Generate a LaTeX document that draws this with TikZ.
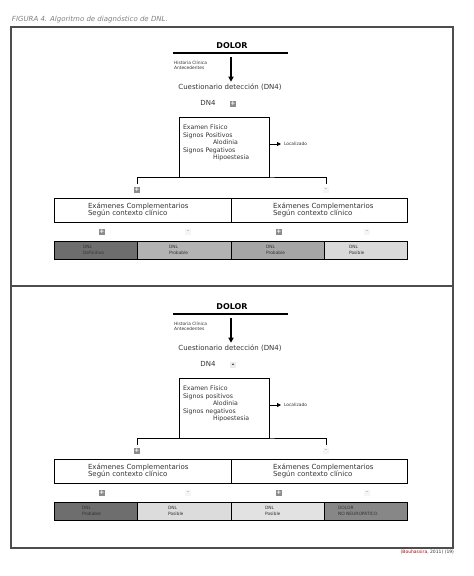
\documentclass[tikz,border=0pt]{standalone}
\usepackage{fontspec}
\setmainfont{DejaVu Sans}
\usetikzlibrary{arrows.meta}
\definecolor{framecol}{HTML}{4D4D4D}
\definecolor{capgray}{HTML}{808080}
\definecolor{plusgray}{HTML}{8C8C8C}
\definecolor{barA}{HTML}{6E6E6E}
\definecolor{barB}{HTML}{B3B3B3}
\definecolor{barC}{HTML}{A6A6A6}
\definecolor{barD}{HTML}{D9D9D9}
\definecolor{barE}{HTML}{DCDCDC}
\definecolor{barF}{HTML}{E2E2E2}
\definecolor{barG}{HTML}{878787}
\definecolor{txtgray}{HTML}{333333}
\tikzset{
  every node/.style={inner sep=0pt, outer sep=0pt},
  titletxt/.style={font=\fontsize{8}{9}\selectfont\bfseries},
  midtxt/.style={font=\fontsize{7}{8}\selectfont, text=txtgray},
  examtxt/.style={font=\fontsize{6.2}{7.4}\selectfont, align=left, text=txtgray},
  smalltxt/.style={font=\fontsize{4.4}{5.2}\selectfont, align=left, text=txtgray},
  compltxt/.style={font=\fontsize{7}{7.2}\selectfont, align=left, text=txtgray},
  plusbox/.style={fill=plusgray, minimum size=6pt, text=white, font=\fontsize{6}{6}\selectfont\bfseries},
  minusbox/.style={fill=gray!8, minimum size=6pt, text=gray, font=\fontsize{6}{6}\selectfont},
  minusdark/.style={fill=gray!15, minimum size=6pt, text=black, font=\fontsize{6}{6}\selectfont\bfseries},
  boxline/.style={draw=black, line width=0.8pt, anchor=north west},
  barbox/.style={draw=black, line width=0.8pt, anchor=north west, minimum height=18pt},
  bartxt/.style={anchor=west, font=\fontsize{4.4}{5.4}\selectfont, align=left, text=txtgray},
  conn/.style={line width=0.8pt},
}
% #1 prefix, #2 DN4 sign style, #3 DN4 sign, #4 positive word, #5 negative word
\newcommand\dnlsection[5]{%
  \node[titletxt] (#1dolor) at (232,46) {DOLOR};
  \coordinate (#1la) at (173,53);
  \coordinate (#1lb) at (288,53);
  \draw[line width=1.3pt] (#1la) -- (#1lb);
  \node[smalltxt, anchor=north west] (#1hist) at (174,61) {Historia Clínica\\Antecedentes};
  \node[midtxt] (#1cuest) at (230,87) {Cuestionario detección (DN4)};
  \coordinate (#1arr) at (231,57);
  \draw[line width=1.3pt, -{Triangle[length=5pt,width=5pt]}] (#1arr) -- ([yshift=2pt]#1arr |- #1cuest.north);
  \node[midtxt] (#1dn4) at (208,103) {DN4};
  \node[#2] (#1dn4s) at (233,104) {#3};
  \node[boxline, minimum width=90pt, minimum height=60pt] (#1box) at (179,117) {};
  \node[examtxt, anchor=north west] (#1ef) at (183,125) {Examen Físico\\Signos #4\\\hspace*{30pt}Alodinia\\Signos #5\\\hspace*{30pt}Hipoestesia};
  \node[smalltxt, anchor=west] (#1loc) at (284,144) {Localizado};
  \draw[conn, -{Triangle[length=4pt,width=4pt]}] (#1box.east |- #1loc.west) -- ([xshift=-3pt]#1loc.west);
  \node[plusbox] (#1bp) at (137,190) {+};
  \node[minusbox] (#1bm) at (326,190) {-};
  \draw[conn] ([yshift=3pt]#1bp.north) |- (#1box.south) -| ([yshift=3pt]#1bm.north);
  \node[boxline, minimum width=177pt, minimum height=24pt] (#1exL) at (54,198) {};
  \node[boxline, minimum width=176pt, minimum height=24pt] (#1exR) at (231,198) {};
  \node[compltxt, anchor=west] (#1exLt) at (88,210) {Exámenes Complementarios\\Según contexto clínico};
  \node[compltxt, anchor=west] (#1exRt) at (273,210) {Exámenes Complementarios\\Según contexto clínico};
  \node[plusbox] (#1s1) at (102,232) {+};
  \node[minusbox] (#1s2) at (188,232) {-};
  \node[plusbox] (#1s3) at (279,232) {+};
  \node[minusbox] (#1s4) at (367,232) {-};
}
\begin{document}
\begin{tikzpicture}[x=1pt,y=-1pt]
  \useasboundingbox (0,0) rectangle (474,576);
  \node[anchor=west, font=\fontsize{7}{7.5}\selectfont\itshape, text=capgray] (cap) at (12,19) {FIGURA 4. Algoritmo de diagnóstico de DNL.};
  \draw[framecol, line width=1.1pt] (11,27) rectangle (453,548);
  \draw[framecol, line width=1.1pt] (11,286) -- (453,286);
  % top section
  \dnlsection{t}{plusbox}{+}{Positivos}{Pegativos}
  \node[barbox, fill=barA, minimum width=83pt] (tb1) at (54,241) {};
  \node[barbox, fill=barB, minimum width=94pt] (tb2) at (137,241) {};
  \node[barbox, fill=barC, minimum width=93pt] (tb3) at (231,241) {};
  \node[barbox, fill=barD, minimum width=83pt] (tb4) at (324,241) {};
  \node[bartxt] (tt1) at (83,250) {DNL\\Definitivo};
  \node[bartxt] (tt2) at (169,250) {DNL\\Probable};
  \node[bartxt] (tt3) at (266,250) {DNL\\Probable};
  \node[bartxt] (tt4) at (349,250) {DNL\\Posible};
  % bottom section
  \begin{scope}[yshift=-261pt]
  \dnlsection{b}{minusdark}{-}{positivos}{negativos}
  \node[barbox, fill=barA, minimum width=83pt] (bb1) at (54,241) {};
  \node[barbox, fill=barE, minimum width=94pt] (bb2) at (137,241) {};
  \node[barbox, fill=barF, minimum width=93pt] (bb3) at (231,241) {};
  \node[barbox, fill=barG, minimum width=83pt] (bb4) at (324,241) {};
  \node[bartxt] (bt1) at (82,250) {DNL\\Probable};
  \node[bartxt] (bt2) at (168,250) {DNL\\Posible};
  \node[bartxt] (bt3) at (265,250) {DNL\\Posible};
  \node[bartxt] (bt4) at (338,250) {DOLOR\\NO NEUROPÁTICO};
  \end{scope}
  \node[anchor=east, font=\fontsize{4.5}{5}\selectfont, text=txtgray] (cite) at (454,552) {(\textcolor{red!70!black}{Bouhassira}, 2011) (19)};
\end{tikzpicture}
\end{document}
